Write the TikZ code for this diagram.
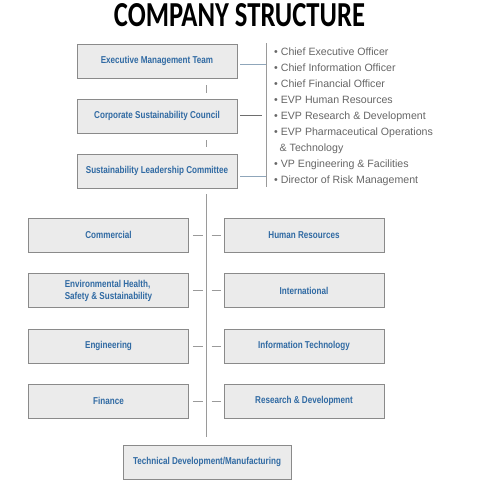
\documentclass[tikz,border=0pt]{standalone}
\usepackage{fontspec}
\setmainfont{Liberation Sans}
\newfontfamily\titlefont{Carlito}
\newfontfamily\boxfont{Liberation Sans}[FakeStretch=0.81]
\usepackage{graphicx}
\definecolor{boxfill}{HTML}{EBEBEB}
\definecolor{boxline}{HTML}{8A8A8A}
\definecolor{boxtext}{RGB}{48,106,163}
\definecolor{conn}{HTML}{9A9A9A}
\definecolor{connblue}{HTML}{8FA6BA}
\definecolor{conndark}{HTML}{6E6E6E}
\definecolor{listtext}{HTML}{666666}
\tikzset{
  orgbox/.style={draw=boxline, fill=boxfill, line width=0.9pt, inner sep=0pt,
    minimum height=34pt, text=boxtext, font=\boxfont\bfseries\fontsize{10}{14.5}\selectfont, align=center},
  topbox/.style={orgbox, minimum width=160pt},
  lowbox/.style={orgbox, minimum width=160pt},
  connline/.style={draw=conn, line width=1pt},
  listitem/.style={anchor=west, inner sep=0pt, text=listtext, font=\fontsize{10.6}{12}\selectfont},
}
\begin{document}
\begin{tikzpicture}[x=1pt,y=-1pt]
\useasboundingbox[fill=white] (0,0) rectangle (480,480);
% title
\node[inner sep=0pt] (title) at (239.5,15.5) {\resizebox{251pt}{23pt}{\titlefont\bfseries COMPANY STRUCTURE}};
% top boxes
\node[topbox] (emt) at (157,61) {Executive Management Team};
\node[topbox] (csc) at (157,116) {Corporate Sustainability Council};
\node[topbox] (slc) at (157,171) {Sustainability Leadership Committee};
% bracket
\coordinate (k0) at (266,43);
\coordinate (k1) at (266,64);
\coordinate (k2) at (266,115);
\coordinate (k3) at (266,176);
\coordinate (k4) at (266,187);
\draw[connline] (k0) -- (k4);
\draw[draw=connblue, line width=1pt] (emt.east |- k1) ++(3,0) -- (k1);
\draw[draw=conndark, line width=1pt] (csc.east |- k2) ++(3,0) -- ([xshift=-4pt]k2);
\draw[draw=connblue, line width=1pt] (slc.east |- k3) ++(3,0) -- (k3);
% list
\node[listitem] (b1) at (274,52) {• Chief Executive Officer};
\node[listitem] (b2) at (274,68.1) {• Chief Information Officer};
\node[listitem] (b3) at (274,84.2) {• Chief Financial Officer};
\node[listitem] (b4) at (274,100.3) {• EVP Human Resources};
\node[listitem] (b5) at (274,116.4) {• EVP Research \& Development};
\node[listitem] (b6) at (274,132.5) {• EVP Pharmaceutical Operations};
\node[listitem] (b6b) at (279.5,148.6) {\& Technology};
\node[listitem] (b7) at (274,164.7) {• VP Engineering \& Facilities};
\node[listitem] (b8) at (274,180.8) {• Director of Risk Management};
% vertical spine
\coordinate (m1) at (206.5,194);
\coordinate (m2) at (206.5,437);
\draw[connline] ([yshift=-7pt]emt.south -| m1) -- ([yshift=6pt]csc.north -| m1);
\draw[connline] ([yshift=-7pt]csc.south -| m1) -- ([yshift=7pt]slc.north -| m1);
\draw[connline] (m1) -- (m2);
% lower boxes
\node[lowbox] (com) at (108.5,235) {Commercial};
\node[lowbox] (hr)  at (304,235) {Human Resources};
\node[lowbox] (ehs) at (108.5,290.5) {\begin{tabular}{@{}l@{}}Environmental Health,\\[-2.5pt]Safety \& Sustainability\end{tabular}};
\node[lowbox] (int) at (304,290.5) {International};
\node[lowbox] (eng) at (108.5,346) {Engineering};
\node[lowbox] (it)  at (304,346) {Information Technology};
\node[lowbox] (fin) at (108.5,401) {Finance};
\node[lowbox] (rd)  at (304,401) {Research \& Development};
\node[orgbox, minimum width=168pt] (tdm) at (207,462) {Technical Development/Manufacturing};
% dashes
\foreach \l/\r in {com/hr, ehs/int, eng/it, fin/rd}{
  \draw[connline] ([xshift=4pt]\l.east) -- ([xshift=14pt]\l.east);
  \draw[connline] ([xshift=-12pt]\r.west) -- ([xshift=-3pt]\r.west);
}
\end{tikzpicture}
\end{document}
